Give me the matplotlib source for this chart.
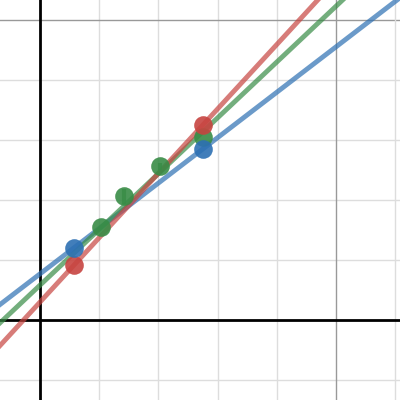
import numpy as np
import matplotlib
matplotlib.use("Agg")
import matplotlib.pyplot as plt

blue_x = [0.57, 2.75]; blue_y = [1.20, 2.85]
red_x = [0.57, 2.75]; red_y = [0.91, 3.25]
green_x = [1.03, 1.42, 2.02, 2.75]; green_y = [1.55, 2.06, 2.56, 3.05]
green_err = [0.0, 0.12, 0.06, 0.0]
green_fit = [0.93, 0.58]  # slope, intercept

fig = plt.figure(figsize=(4, 4), dpi=100)
ax = fig.add_axes([0, 0, 1, 1])
xmin, xmax, ymin, ymax = -0.675, 6.08, -1.333, 5.333
ax.set_xlim(xmin, xmax); ax.set_ylim(ymin, ymax)
for v in range(-1, 7):
    c = '#999999' if v == 5 else '#dddddd'
    if v != 0:
        ax.axvline(v, color=c, lw=1.0, zorder=0)
        ax.axhline(v, color=c, lw=1.0, zorder=0)
ax.axvline(0, color='black', lw=2, zorder=1)
ax.axhline(0, color='black', lw=2, zorder=1)

xs = np.array([xmin, xmax])
mb, bb = np.polyfit(blue_x, blue_y, 1)
mr, br = np.polyfit(red_x, red_y, 1)
ax.plot(xs, mb * xs + bb, color='#2d70b3', lw=3.5, alpha=0.7, zorder=2)
ax.plot(xs, green_fit[0] * xs + green_fit[1], color='#388c46', lw=3.5, alpha=0.7, zorder=2)
ax.plot(xs, mr * xs + br, color='#c74440', lw=3.5, alpha=0.7, zorder=2)
ax.errorbar(green_x, green_y, yerr=green_err, fmt='none', ecolor='#388c46', elinewidth=3, alpha=0.8, zorder=3)
ax.scatter(green_x, green_y, s=180, color='#388c46', alpha=0.9, zorder=4, linewidths=0)
ax.scatter(red_x, red_y, s=180, color='#c74440', alpha=0.9, zorder=4, linewidths=0)
ax.scatter(blue_x, blue_y, s=180, color='#2d70b3', alpha=0.9, zorder=5, linewidths=0)
ax.set_xticks([]); ax.set_yticks([])
for s in ax.spines.values():
    s.set_visible(False)
fig.savefig('out.png', dpi=100)
